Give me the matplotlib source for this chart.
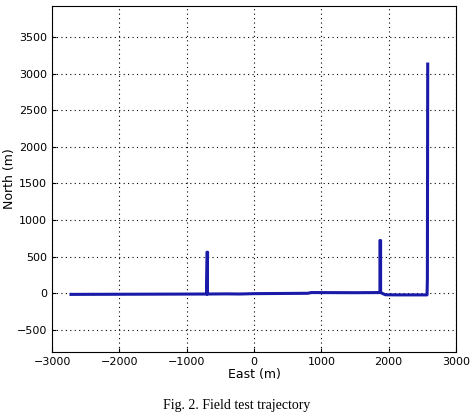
import matplotlib
matplotlib.use("Agg")
import matplotlib.pyplot as plt

east = [-2720, -1500, -700, -700, -690, -700, -400, -220, 0, 800, 850, 1500, 1870, 1870, 1880, 1880, 1950, 2100, 2570, 2575, 2580]
north = [-15, -12, -10, 560, 560, -10, -8, -10, -5, 0, 10, 8, 10, 720, 720, 10, -20, -22, -22, 200, 3130]

fig = plt.figure(figsize=(4.74, 4.13), dpi=100)
ax = fig.add_axes([0.11, 0.148, 0.852, 0.837])
ax.plot(east, north, color="#1a1aa8", lw=2.2)
ax.set_xlim(-3000, 3000)
ax.set_ylim(-800, 3920)
ax.set_xticks(range(-3000, 3001, 1000))
ax.set_yticks(range(-500, 3501, 500))
ax.grid(True, color="black", linestyle=(0, (1, 3)), lw=0.8)
ax.tick_params(labelsize=8, direction="in", length=3)
ax.set_xlabel("East (m)", fontsize=9, labelpad=1)
ax.set_ylabel("North (m)", fontsize=9, labelpad=1)
fig.text(0.5, 0.002, "Fig. 2. Field test trajectory", ha="center", va="bottom",
         fontsize=10, family="Liberation Serif")
fig.savefig("out.png", dpi=100)
